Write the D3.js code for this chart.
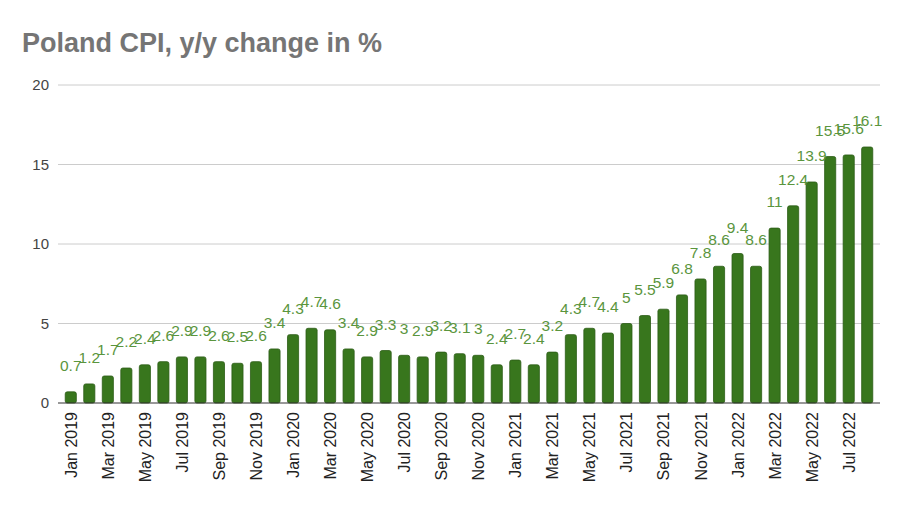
<!DOCTYPE html>
<html>
<head>
<meta charset="utf-8">
<script src="https://cdn.jsdelivr.net/npm/d3@7"></script>
<style>
  body { margin: 0; background: #fff; }
  svg { font-family: "Liberation Sans", Arial, sans-serif; }
</style>
</head>
<body>
<svg id="chart" width="900" height="510"></svg>
<script>
// Poland CPI y/y, Jan 2019 - Aug 2022
const months = [
  "Jan 2019","Feb 2019","Mar 2019","Apr 2019","May 2019","Jun 2019","Jul 2019","Aug 2019","Sep 2019","Oct 2019","Nov 2019","Dec 2019",
  "Jan 2020","Feb 2020","Mar 2020","Apr 2020","May 2020","Jun 2020","Jul 2020","Aug 2020","Sep 2020","Oct 2020","Nov 2020","Dec 2020",
  "Jan 2021","Feb 2021","Mar 2021","Apr 2021","May 2021","Jun 2021","Jul 2021","Aug 2021","Sep 2021","Oct 2021","Nov 2021","Dec 2021",
  "Jan 2022","Feb 2022","Mar 2022","Apr 2022","May 2022","Jun 2022","Jul 2022","Aug 2022"
];
const cpi = [
  0.7, 1.2, 1.7, 2.2, 2.4, 2.6, 2.9, 2.9, 2.6, 2.5, 2.6, 3.4,
  4.3, 4.7, 4.6, 3.4, 2.9, 3.3, 3.0, 2.9, 3.2, 3.1, 3.0, 2.4,
  2.7, 2.4, 3.2, 4.3, 4.7, 4.4, 5.0, 5.5, 5.9, 6.8, 7.8, 8.6,
  9.4, 8.6, 11, 12.4, 13.9, 15.5, 15.6, 16.1
];
const yTicks = [0, 5, 10, 15, 20];

const svg = d3.select("#chart");
const plotLeft = 58, plotRight = 880, plotTop = 85, plotBottom = 403;

svg.append("text")
    .attr("x", 22)
    .attr("y", 52)
    .attr("font-size", 27)
    .attr("font-weight", "bold")
    .attr("fill", "#757575")
    .text("Poland CPI, y/y change in %");

const x = d3.scaleBand()
    .domain(months)
    .range([plotLeft, plotRight])
    .paddingInner(0.4)
    .paddingOuter(0.39);

const y = d3.scaleLinear()
    .domain([0, 20])
    .range([plotBottom, plotTop]);

// gridlines + y labels
const grid = svg.append("g");
grid.selectAll("line")
    .data(yTicks.filter(d => d > 0))
    .enter().append("line")
    .attr("x1", plotLeft).attr("x2", plotRight)
    .attr("y1", d => y(d)).attr("y2", d => y(d))
    .attr("stroke", "#cccccc");

grid.selectAll("text")
    .data(yTicks)
    .enter().append("text")
    .attr("x", 49)
    .attr("y", d => y(d))
    .attr("dy", "0.35em")
    .attr("text-anchor", "end")
    .attr("font-size", 15)
    .attr("fill", "#444")
    .text(d => d);

// bars
svg.append("g").selectAll("rect")
    .data(cpi)
    .enter().append("rect")
    .attr("x", (d, i) => x(months[i]))
    .attr("y", d => y(d))
    .attr("width", x.bandwidth())
    .attr("height", d => y(0) - y(d))
    .attr("rx", 2)
    .attr("fill", "#38761d")
    .attr("stroke", "#2b5c15")
    .attr("stroke-width", 0.8);

// data labels
svg.append("g").selectAll("text")
    .data(cpi)
    .enter().append("text")
    .attr("x", (d, i) => x(months[i]) + x.bandwidth() / 2)
    .attr("y", d => y(d) - 21)
    .attr("text-anchor", "middle")
    .attr("font-size", 15.5)
    .attr("fill", "#5a953d")
    .text(d => String(d));

// baseline
svg.append("line")
    .attr("x1", plotLeft).attr("x2", plotRight)
    .attr("y1", plotBottom).attr("y2", plotBottom)
    .attr("stroke", "#333")
    .attr("stroke-width", 1.2);

// x labels, every second month
svg.append("g").selectAll("text")
    .data(months.filter((d, i) => i % 2 === 0))
    .enter().append("text")
    .attr("transform", d => `translate(${x(d) + x.bandwidth() / 2 + 6},${plotBottom + 9}) rotate(-90)`)
    .attr("text-anchor", "end")
    .attr("font-size", 16)
    .attr("fill", "#222")
    .text(d => d);
</script>
</body>
</html>
